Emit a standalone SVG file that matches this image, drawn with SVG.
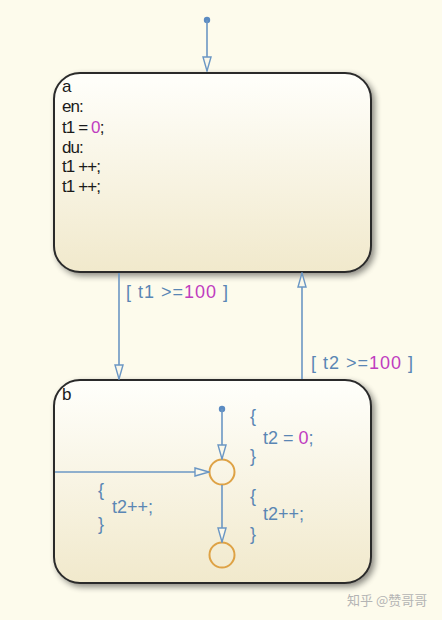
<svg xmlns="http://www.w3.org/2000/svg" width="442" height="620" viewBox="0 0 442 620">
<style>
.state{stroke:#2b2b2b;stroke-width:2;fill:url(#g)}
.conn{stroke:#6b97c4;stroke-width:1.6;fill:none}
.junc{stroke:#dea245;stroke-width:2;fill:none}
.dot{fill:#5b8bc2}
.code{font-family:"Liberation Sans",Arial,sans-serif;font-size:17px;fill:#1a1a1a;letter-spacing:-0.9px}
.lbl{font-family:"Liberation Sans",Arial,sans-serif;font-size:18px;fill:#5a86b4}
.num{fill:#c03cc0}
.wm{font-family:"Noto Sans CJK SC","Liberation Sans",sans-serif;font-size:13px;fill:#b4b4b4}
</style>
<defs>
<linearGradient id="g" x1="0" y1="0" x2="0" y2="1">
<stop offset="0" stop-color="#fffffb"/>
<stop offset="1" stop-color="#f1e9cc"/>
</linearGradient>
<filter id="sh" x="-10%" y="-10%" width="125%" height="125%">
<feGaussianBlur in="SourceAlpha" stdDeviation="3"/>
<feOffset dx="3" dy="3" result="b"/>
<feComponentTransfer><feFuncA type="linear" slope="0.45"/></feComponentTransfer>
<feMerge><feMergeNode/><feMergeNode in="SourceGraphic"/></feMerge>
</filter>
<marker id="arr" viewBox="0 0 16 10" refX="15" refY="5" markerWidth="16" markerHeight="10" markerUnits="userSpaceOnUse" orient="auto">
<path d="M1,1 L15,5 L1,9 Z" fill="#fbf8ea" stroke="#6b97c4" stroke-width="1.4"/>
</marker>
</defs>
<rect width="442" height="620" fill="#fdfbec"/>
<g id="state-a">
<rect class="state" x="54" y="73" width="317" height="199" rx="26" filter="url(#sh)"/>
<text class="code" x="62" y="92">a</text>
<text class="code" x="62" y="112">en:</text>
<text class="code" x="62" y="133">t1  = <tspan class="num">0</tspan>;</text>
<text class="code" x="62" y="153">du:</text>
<text class="code" x="62" y="172">t1 ++;</text>
<text class="code" x="62" y="192">t1 ++;</text>
</g>
<g id="state-b">
<rect class="state" x="54" y="380" width="317" height="203" rx="26" filter="url(#sh)"/>
<text class="code" x="62" y="400">b</text>
</g>
<g id="junction-1"><circle class="junc" cx="222" cy="472" r="12.5"/></g>
<g id="junction-2"><circle class="junc" cx="222" cy="555" r="12.5"/></g>
<g id="connectors">
<circle class="dot" cx="207" cy="20" r="3.2"/>
<line class="conn" x1="207" y1="20" x2="207" y2="71" marker-end="url(#arr)"/>
<line class="conn" x1="119" y1="273" x2="119" y2="379" marker-end="url(#arr)"/>
<line class="conn" x1="302" y1="379" x2="302" y2="273" marker-end="url(#arr)"/>
<circle class="dot" cx="222" cy="409" r="3.2"/>
<line class="conn" x1="222" y1="409" x2="222" y2="459" marker-end="url(#arr)"/>
<line class="conn" x1="55" y1="472" x2="209" y2="472" marker-end="url(#arr)"/>
<line class="conn" x1="222" y1="485" x2="222" y2="542" marker-end="url(#arr)"/>
<text class="lbl" x="126" y="298" textLength="102" lengthAdjust="spacing">[ t1 &gt;=<tspan class="num">100</tspan> ]</text>
<text class="lbl" x="311" y="369" textLength="102" lengthAdjust="spacing">[ t2 &gt;=<tspan class="num">100</tspan> ]</text>
<text class="lbl" x="250" y="422">{</text>
<text class="lbl" x="263" y="444">t2 = <tspan class="num">0</tspan>;</text>
<text class="lbl" x="250" y="462">}</text>
<text class="lbl" x="250" y="502">{</text>
<text class="lbl" x="263" y="520">t2++;</text>
<text class="lbl" x="250" y="540">}</text>
<text class="lbl" x="98" y="496">{</text>
<text class="lbl" x="112" y="513">t2++;</text>
<text class="lbl" x="98" y="530">}</text>
</g>
<text class="wm" x="347" y="605">知乎 @赞哥哥</text>
</svg>
